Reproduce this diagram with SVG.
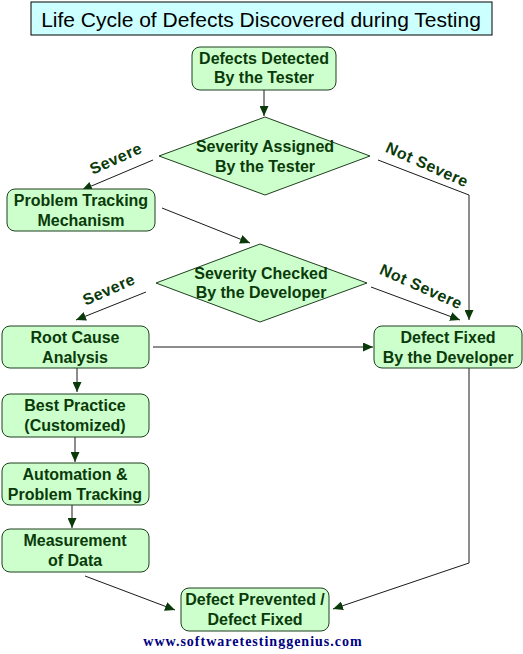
<svg xmlns="http://www.w3.org/2000/svg" width="523" height="654" viewBox="0 0 523 654">
<defs>
<style>
.node{fill:#ccffcc;stroke:#1f3f1f;stroke-width:1}
.t{font-family:"Liberation Sans",Arial,sans-serif;font-weight:bold;font-size:16px;fill:#0a3a0a;text-anchor:middle}
.lbl{font-family:"Liberation Sans",Arial,sans-serif;font-weight:bold;font-size:16px;letter-spacing:0.5px;fill:#0a3a0a;text-anchor:middle}
.c{fill:none;stroke:#1a1a1a;stroke-width:1}
</style>
<marker id="ah" markerWidth="11" markerHeight="9" refX="10" refY="4.5" orient="auto" markerUnits="userSpaceOnUse">
<path d="M0,0 L10,4.5 L0,9 z" fill="#0a3a0a"/>
</marker>
</defs>
<rect width="523" height="654" fill="#ffffff"/>
<g id="title">
<rect x="31" y="2" width="461" height="33" fill="#ccffff" stroke="#000000" stroke-width="1"/>
<text x="261" y="27" font-family="'Liberation Sans',Arial,sans-serif" font-size="21" text-anchor="middle" fill="#000000">Life Cycle of Defects Discovered during Testing</text>
</g>
<g id="connectors">
<line class="c" x1="264" y1="90" x2="264" y2="116" marker-end="url(#ah)"/>
<line class="c" x1="153" y1="160" x2="82" y2="190" marker-end="url(#ah)"/>
<polyline class="c" points="378,160 469,195 469,320" marker-end="url(#ah)"/>
<line class="c" x1="162" y1="208" x2="250" y2="243" marker-end="url(#ah)"/>
<line class="c" x1="146" y1="292" x2="76" y2="320" marker-end="url(#ah)"/>
<line class="c" x1="371" y1="287" x2="460" y2="320" marker-end="url(#ah)"/>
<line class="c" x1="153" y1="347" x2="373" y2="347" marker-end="url(#ah)"/>
<line class="c" x1="77" y1="368" x2="77" y2="392" marker-end="url(#ah)"/>
<line class="c" x1="75" y1="437" x2="75" y2="462" marker-end="url(#ah)"/>
<line class="c" x1="72" y1="505" x2="72" y2="528" marker-end="url(#ah)"/>
<line class="c" x1="85" y1="576" x2="175" y2="610" marker-end="url(#ah)"/>
<polyline class="c" points="469,368 469,563 333,609" marker-end="url(#ah)"/>
<text class="lbl" transform="translate(116,159) rotate(-24)" y="5">Severe</text>
<text class="lbl" transform="translate(427,165) rotate(24)" y="5">Not Severe</text>
<text class="lbl" transform="translate(109,290) rotate(-24)" y="5">Severe</text>
<text class="lbl" transform="translate(421,287) rotate(24)" y="5">Not Severe</text>
</g>
<g id="n1">
<rect class="node" x="192" y="47" width="144" height="43" rx="8"/>
<text class="t" x="264" y="64">Defects Detected</text>
<text class="t" x="264" y="83">By the Tester</text>
</g>
<g id="d1">
<polygon class="node" points="159,156 265,117 370,156 265,195"/>
<text class="t" x="265" y="152">Severity Assigned</text>
<text class="t" x="265" y="172">By the Tester</text>
</g>
<g id="n2">
<rect class="node" x="7" y="189" width="148" height="42" rx="8"/>
<text class="t" x="81" y="206">Problem Tracking</text>
<text class="t" x="81" y="226">Mechanism</text>
</g>
<g id="d2">
<polygon class="node" points="156,283 260,244 367,283 260,322"/>
<text class="t" x="261" y="279">Severity Checked</text>
<text class="t" x="261" y="298">By the Developer</text>
</g>
<g id="n3">
<rect class="node" x="2" y="326" width="147" height="42" rx="8"/>
<text class="t" x="75" y="343">Root Cause</text>
<text class="t" x="75" y="363">Analysis</text>
</g>
<g id="n4">
<rect class="node" x="374" y="326" width="148" height="42" rx="8"/>
<text class="t" x="448" y="343">Defect Fixed</text>
<text class="t" x="448" y="363">By the Developer</text>
</g>
<g id="n5">
<rect class="node" x="2" y="394" width="147" height="43" rx="8"/>
<text class="t" x="75" y="411">Best Practice</text>
<text class="t" x="75" y="431">(Customized)</text>
</g>
<g id="n6">
<rect class="node" x="2" y="463" width="147" height="42" rx="8"/>
<text class="t" x="75" y="480">Automation &amp;</text>
<text class="t" x="75" y="500">Problem Tracking</text>
</g>
<g id="n7">
<rect class="node" x="2" y="529" width="147" height="43" rx="8"/>
<text class="t" x="75" y="546">Measurement</text>
<text class="t" x="75" y="566">of Data</text>
</g>
<g id="n8">
<rect class="node" x="181" y="588" width="148" height="43" rx="8"/>
<text class="t" x="255" y="605">Defect Prevented /</text>
<text class="t" x="255" y="625">Defect Fixed</text>
</g>
<text x="253" y="646" font-family="'Liberation Serif','Times New Roman',serif" font-weight="bold" font-size="14" letter-spacing="1" fill="#000080" text-anchor="middle">www.softwaretestinggenius.com</text>
</svg>
